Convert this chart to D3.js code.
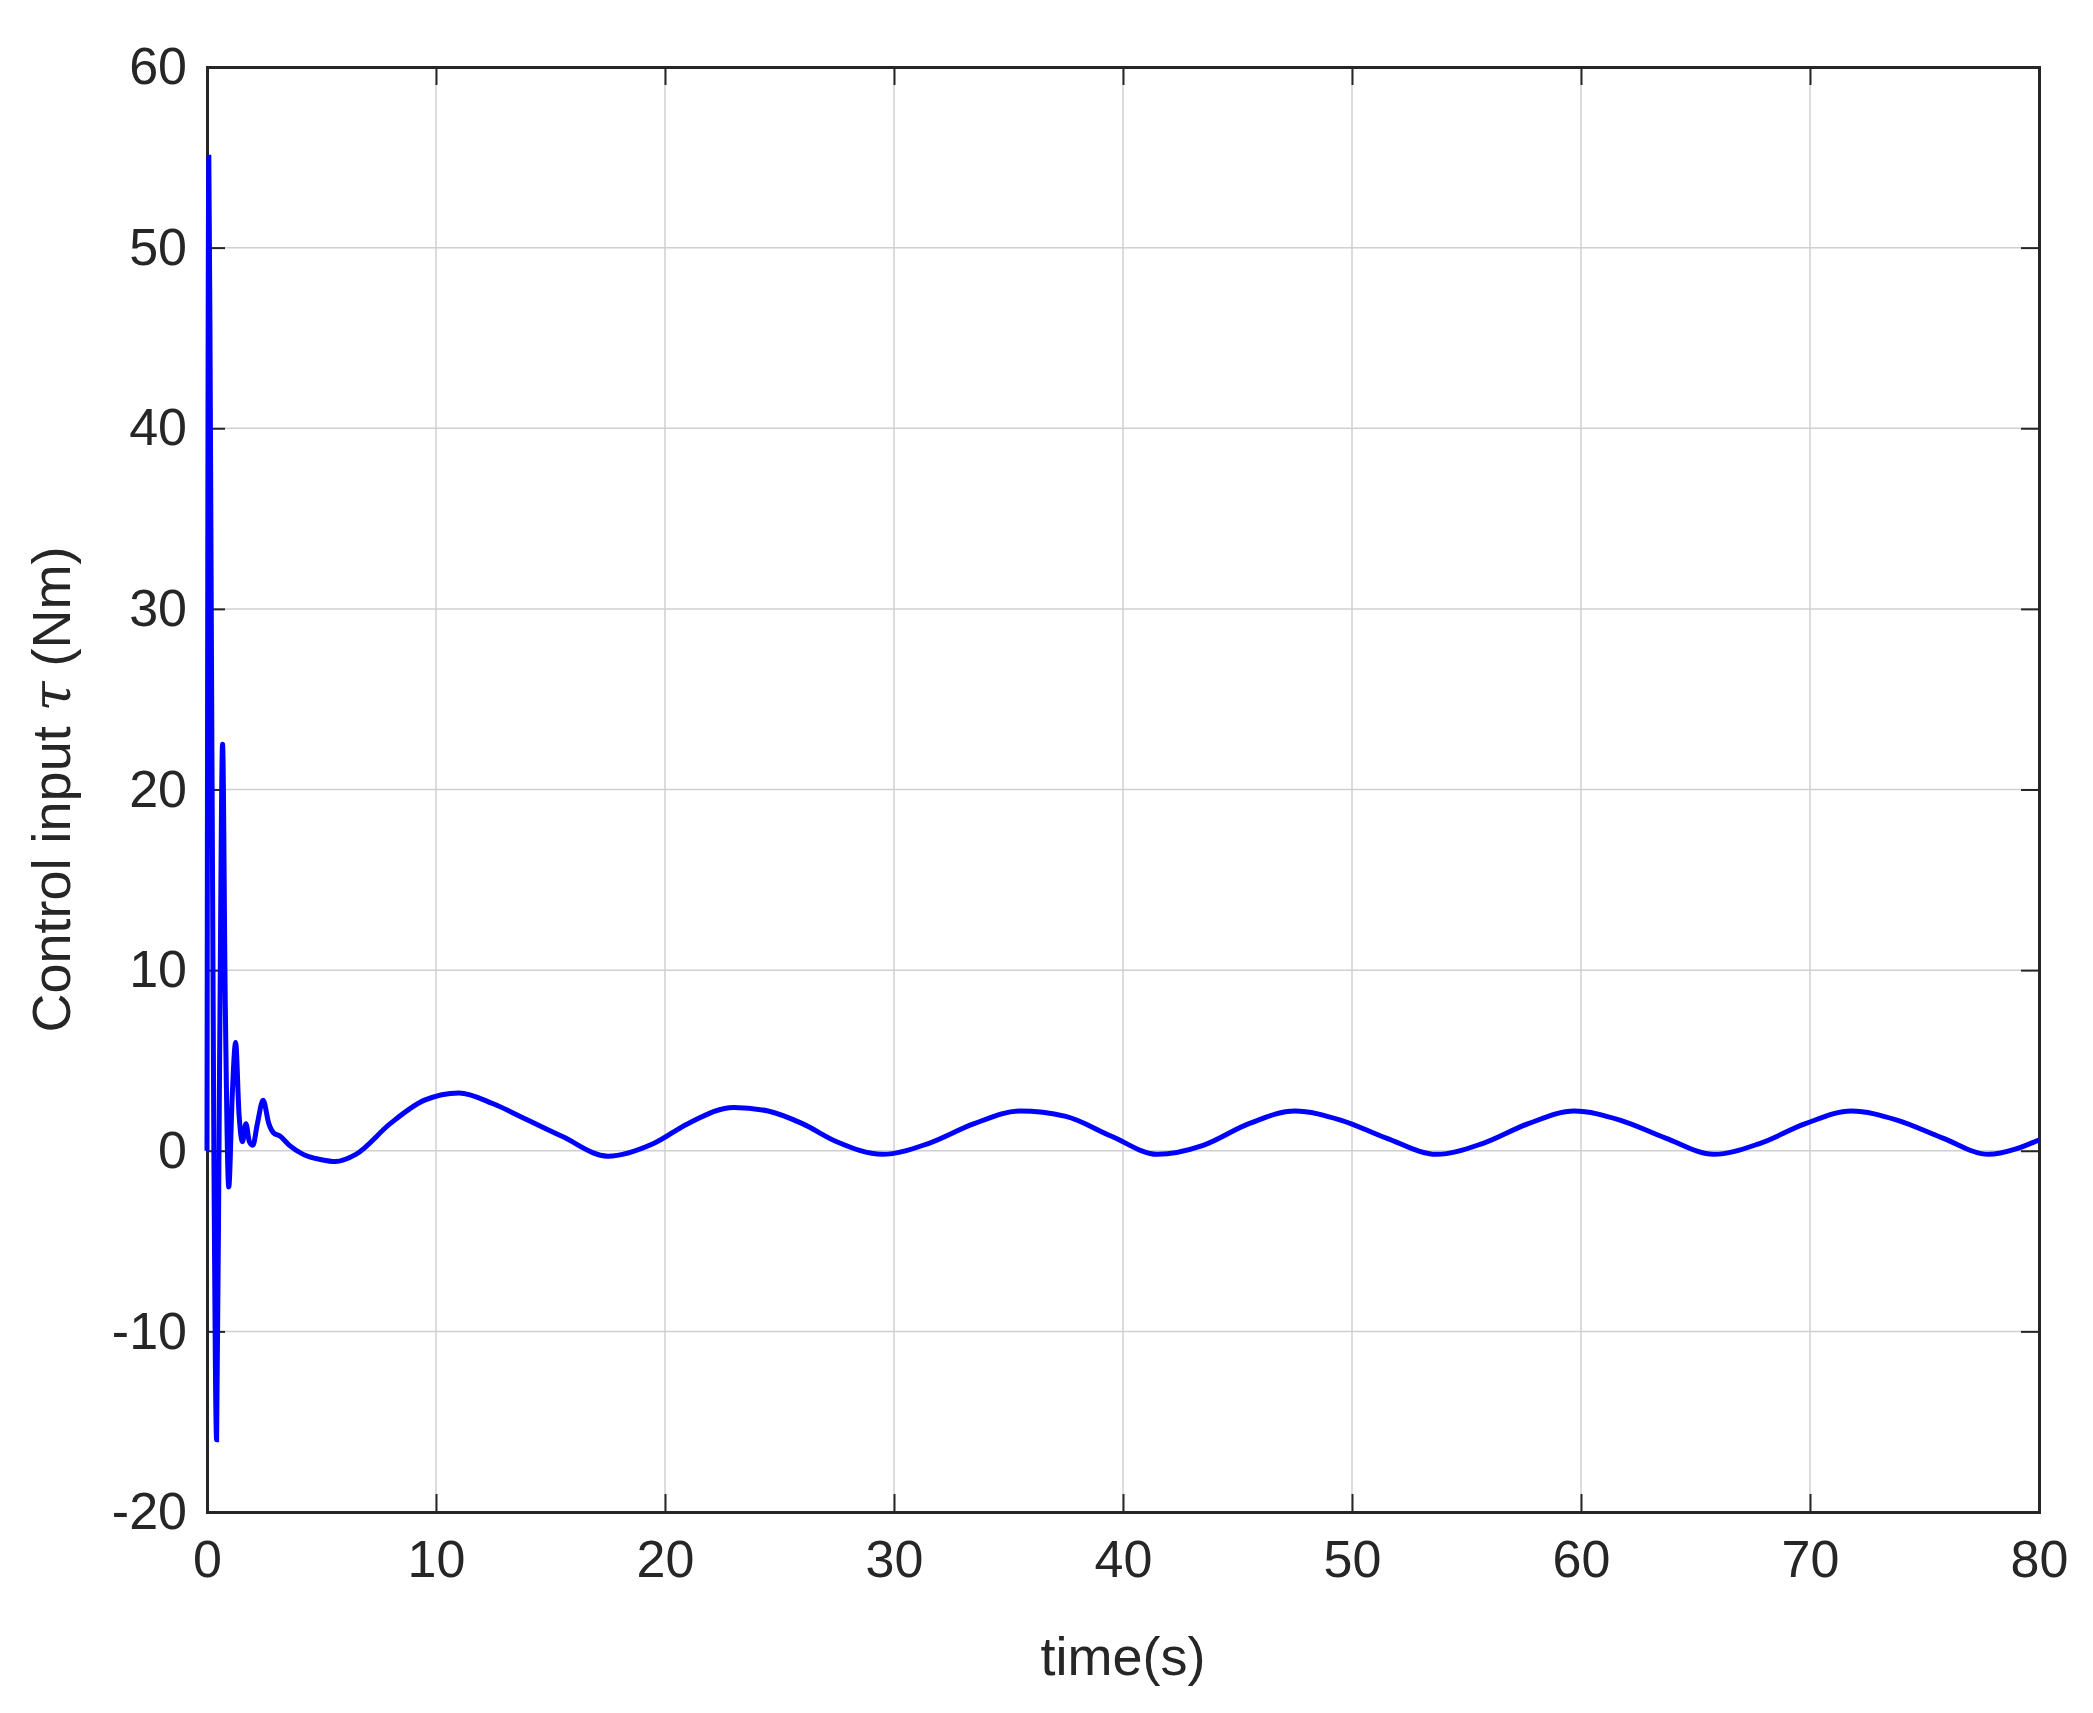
<!DOCTYPE html>
<html><head><meta charset="utf-8">
<script src="https://cdn.jsdelivr.net/npm/d3@7"></script>
<style>body{margin:0;background:#fff}</style></head>
<body><svg id="c" width="2093" height="1713"></svg>
<script>
const xTicks=[0,10,20,30,40,50,60,70,80];
const yTicks=[-20,-10,0,10,20,30,40,50,60];
const tVals=[0,0.08,0.15,0.3,0.42,0.55,0.68,0.8,0.95,1.1,1.25,1.4,1.55,1.7,1.85,2.0,2.2,2.45,2.7,2.9,3.2,3.6,4.2,5,5.6,6.5,8,9.5,11,12.5,14,15.5,17.5,19.5,21,23,24.5,26,27.5,29.5,31.5,33.5,35.5,37.5,39.5,41.5,43.5,45.5,47.5,49.5,51.5,53.7,55.7,57.7,59.7,61.7,63.7,65.8,67.8,69.8,71.8,73.8,75.8,77.8,79,80];
const tau=[0,55,40,0,-16,5,22.5,8,-2,3,6,2,0.5,1.5,0.5,0.3,1.5,2.8,1.5,1,0.8,0.3,-0.2,-0.5,-0.6,-0.2,1.5,2.8,3.2,2.6,1.7,0.8,-0.3,0.4,1.5,2.4,2.2,1.5,0.5,-0.2,0.4,1.5,2.2,1.9,0.8,-0.2,0.3,1.5,2.2,1.7,0.7,-0.2,0.4,1.5,2.2,1.7,0.7,-0.2,0.4,1.5,2.2,1.7,0.7,-0.2,0.1,0.6];
const svg=d3.select("#c");
const L=207,R=2039,T=67,B=1512;
const x=d3.scaleLinear().domain([0,80]).range([L,R]);
const y=d3.scaleLinear().domain([-20,60]).range([B,T]);
const g=svg.append("g");
g.selectAll(".gx").data(xTicks).join("line").attr("x1",d=>x(d)).attr("x2",d=>x(d)).attr("y1",T).attr("y2",B).attr("stroke","#d0d0d0").attr("stroke-width",1.5);
g.selectAll(".gy").data(yTicks).join("line").attr("y1",d=>y(d)).attr("y2",d=>y(d)).attr("x1",L).attr("x2",R).attr("stroke","#d0d0d0").attr("stroke-width",1.5);
const fs="Liberation Sans, Arial, sans-serif";
const fmt=d=>String(d);
const xa=svg.append("g").attr("transform",`translate(0,${B})`).call(d3.axisBottom(x).tickValues(xTicks).tickSize(-18).tickPadding(28).tickFormat(fmt));
const xa2=svg.append("g").attr("transform",`translate(0,${T})`).call(d3.axisTop(x).tickValues(xTicks).tickSize(-18).tickFormat(""));
const ya=svg.append("g").attr("transform",`translate(${L},0)`).call(d3.axisLeft(y).tickValues(yTicks).tickSize(-18).tickPadding(20).tickFormat(fmt));
const ya2=svg.append("g").attr("transform",`translate(${R},0)`).call(d3.axisRight(y).tickValues(yTicks).tickSize(-18).tickFormat(""));
[xa,xa2,ya,ya2].forEach(a=>{a.selectAll("path").attr("stroke","#262626").attr("stroke-width",3);a.selectAll("line").attr("stroke","#262626").attr("stroke-width",2);a.selectAll("text").attr("fill","#262626").style("font-family",fs).style("font-size","52px");});
svg.append("path").datum(tVals.map((t,i)=>[t,tau[i]])).attr("fill","none").attr("stroke","#0000ff").attr("stroke-width",5)
 .attr("d",d3.line().x(d=>x(d[0])).y(d=>y(d[1])).curve(d3.curveMonotoneX));
svg.append("text").attr("x",(L+R)/2).attr("y",1675).attr("text-anchor","middle").attr("fill","#262626").style("font-family",fs).style("font-size","54px").text("time(s)");
const yl=svg.append("text").attr("transform",`translate(70,${(T+B)/2}) rotate(-90)`).attr("text-anchor","middle").attr("fill","#262626").style("font-family",fs).style("font-size","54px");
yl.append("tspan").text("Control input ");
yl.append("tspan").style("font-family","DejaVu Serif, serif").style("font-style","italic").text("τ");
yl.append("tspan").text(" (Nm)");
</script></body></html>
